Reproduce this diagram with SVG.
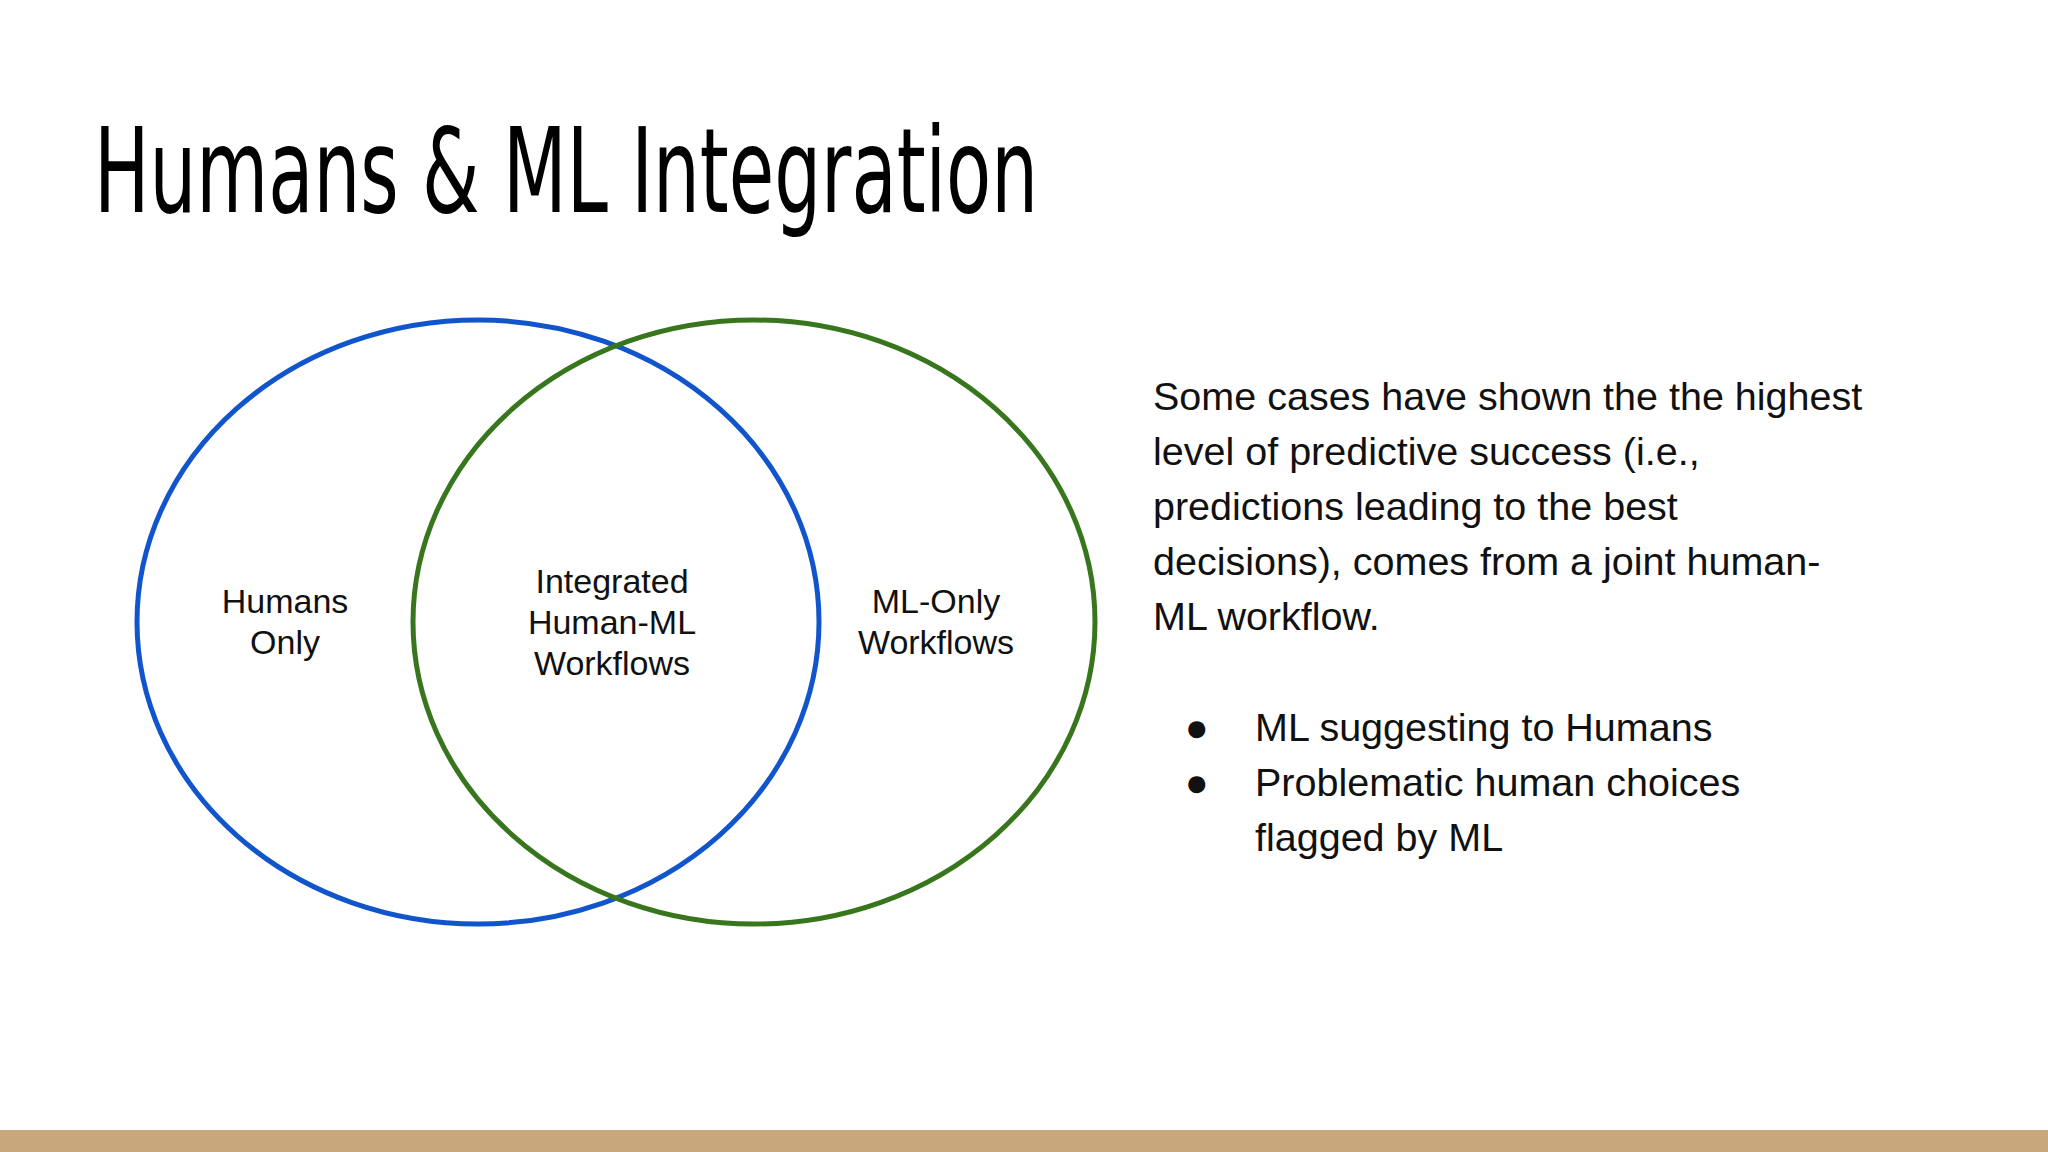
<svg xmlns="http://www.w3.org/2000/svg" width="2048" height="1152" viewBox="0 0 2048 1152">
<style>
.lbl{font-family:"Liberation Sans",Arial,sans-serif;font-size:34px;fill:#111;text-anchor:middle}
.body{font-family:"Liberation Sans",Arial,sans-serif;font-size:39.5px;fill:#111}
</style>
<rect width="2048" height="1152" fill="#fff"/>
<text x="94" y="212" font-family="DejaVu Sans Condensed, Liberation Sans, sans-serif" font-size="118" fill="#000" textLength="944" lengthAdjust="spacingAndGlyphs" font-weight="300">Humans &amp; ML Integration</text>
<g id="humans">
<ellipse cx="478" cy="622" rx="341" ry="302" fill="none" stroke="#1155cc" stroke-width="5"/>
<text class="lbl" x="285" y="613">Humans</text>
<text class="lbl" x="285" y="654">Only</text>
</g>
<g id="ml">
<ellipse cx="754" cy="622" rx="341" ry="302" fill="none" stroke="#38761d" stroke-width="5"/>
<text class="lbl" x="936" y="613">ML-Only</text>
<text class="lbl" x="936" y="654">Workflows</text>
</g>
<g id="integrated">
<text class="lbl" x="612" y="593">Integrated</text>
<text class="lbl" x="612" y="634">Human-ML</text>
<text class="lbl" x="612" y="675">Workflows</text>
</g>
<g id="connectors"></g>
<g id="desc" class="body">
<text x="1153" y="410">Some cases have shown the the highest</text>
<text x="1153" y="465">level of predictive success (i.e.,</text>
<text x="1153" y="520">predictions leading to the best</text>
<text x="1153" y="575">decisions), comes from a joint human-</text>
<text x="1153" y="630">ML workflow.</text>
<text x="1185" y="741">●</text><text x="1255" y="741">ML suggesting to Humans</text>
<text x="1185" y="796">●</text><text x="1255" y="796">Problematic human choices</text>
<text x="1255" y="851">flagged by ML</text>
</g>
<rect x="0" y="1130" width="2048" height="22" fill="#c9a77c"/>
</svg>
